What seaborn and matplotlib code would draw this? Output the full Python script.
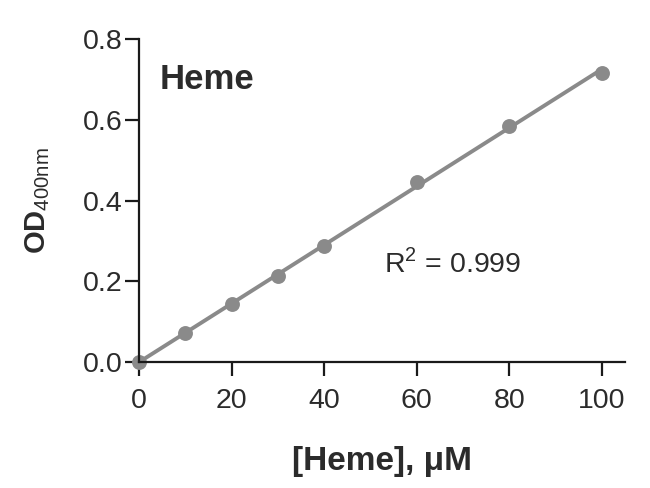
import matplotlib
matplotlib.use("Agg")
import matplotlib.pyplot as plt
import pandas as pd
import seaborn as sns

# standard curve values
heme_um = [0, 10, 20, 30, 40, 60, 80, 100]
od_400 = [0.0, 0.072, 0.144, 0.213, 0.287, 0.447, 0.585, 0.717]
x_ticks = [0, 20, 40, 60, 80, 100]
y_ticks = [0.0, 0.2, 0.4, 0.6, 0.8]

sns.set_style("ticks")
plt.rcParams['font.family'] = ['Liberation Sans', 'DejaVu Sans']
plt.rcParams['mathtext.fontset'] = 'custom'
plt.rcParams['mathtext.rm'] = 'Liberation Sans'

df = pd.DataFrame({'heme': heme_um, 'od': od_400})
grey = '#8a8a8a'
ink = '#2b2b2b'

fig = plt.figure(figsize=(6.5, 4.88), dpi=100)
ax = fig.add_axes([0.2138, 0.258, 0.9615 - 0.2138, 0.920 - 0.258])

sns.regplot(data=df, x='heme', y='od', ax=ax, ci=None, color=grey,
            scatter_kws={'s': 115, 'alpha': 1, 'clip_on': False, 'linewidths': 0},
            line_kws={'lw': 2.8, 'clip_on': False})

ax.set_xlim(0, 105)
ax.set_ylim(0, 0.8)
ax.set_xticks(x_ticks)
ax.set_yticks(y_ticks)
ax.set_yticklabels([f'{v:.1f}' for v in y_ticks])

sns.despine(ax=ax)
for side in ['left', 'bottom']:
    ax.spines[side].set_linewidth(1.6)
    ax.spines[side].set_color('#1a1a1a')
ax.tick_params(axis='both', direction='out', length=10, width=1.6,
               color='#1a1a1a', labelsize=20.5, labelcolor=ink)
ax.tick_params(axis='x', pad=9)
ax.tick_params(axis='y', pad=2)

ax.set_xlabel('[Heme], μM', fontsize=24, fontweight='bold', color=ink, labelpad=23)
ax.set_ylabel(r'OD$_{\mathrm{400nm}}$', fontsize=21, fontweight='bold', color=ink, labelpad=22)

ax.text(4.5, 0.70, 'Heme', fontsize=25, fontweight='bold', color=ink, va='center')
ax.text(53, 0.245, r'R$^{\mathrm{2}}$ = 0.999', fontsize=20.5, color=ink, va='center')

fig.savefig('out.png', dpi=100)
